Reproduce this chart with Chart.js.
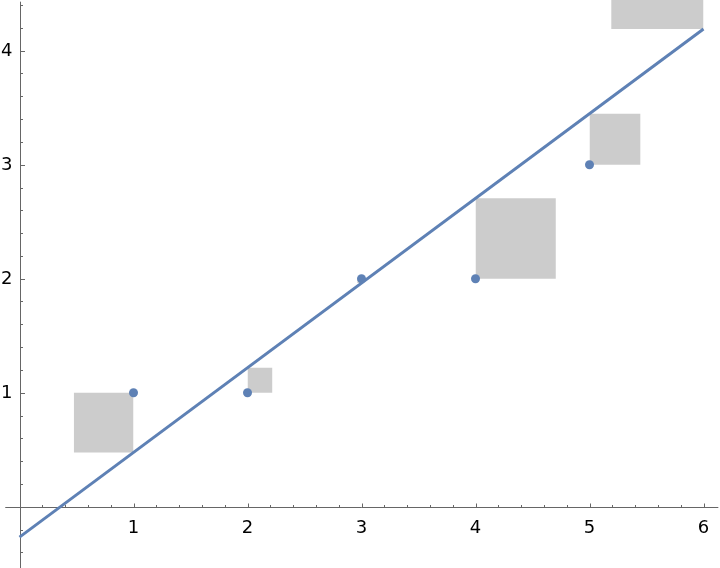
<!DOCTYPE html>
<html>
<head>
<meta charset="utf-8">
<script src="https://cdn.jsdelivr.net/npm/chart.js@4/dist/chart.umd.min.js"></script>
<style>
html,body{margin:0;padding:0;background:#fff;}
#wrap{width:720px;height:568px;}
</style>
</head>
<body>
<div id="wrap"><canvas id="c" width="720" height="568"></canvas></div>
<script>
// data points
const pointX = [1, 2, 3, 4, 5, 6];
const pointY = [1, 1, 2, 2, 3, 5];
// least-squares fit line endpoints
const fitX = [0, 6];
const fitY = [-0.267, 4.19];
// residual squares
const sqX0 = [0.476, 2, 2.962, 4, 5, 5.19];
const sqX1 = [1, 2.219, 3, 4.705, 5.448, 6];
const sqY0 = [0.476, 1, 1.962, 2, 3, 4.19];
const sqY1 = [1, 1.219, 2, 2.705, 3.448, 5];
// tick labels
const xTickLabels = ['1', '2', '3', '4', '5', '6'];
const xTickValues = [1, 2, 3, 4, 5, 6];
const yTickLabels = ['1', '2', '3', '4'];
const yTickValues = [1, 2, 3, 4];

const BLUE = '#5E81B5';
const GRAY = '#CCCCCC';
const AXIS = '#666666';

const datasets = [];
datasets.push({
  label: 'points',
  data: pointX.map((x, i) => ({x: x, y: pointY[i]})),
  showLine: false,
  pointRadius: 4.5,
  pointBackgroundColor: BLUE,
  pointBorderWidth: 0,
  order: 0
});
datasets.push({
  label: 'fit',
  data: fitX.map((x, i) => ({x: x, y: fitY[i]})),
  showLine: true,
  borderColor: BLUE,
  borderWidth: 3,
  pointRadius: 0,
  fill: false,
  order: 1
});
sqX0.forEach((x0, i) => {
  datasets.push({
    label: 'sq' + i,
    data: [{x: x0, y: sqY1[i]}, {x: sqX1[i], y: sqY1[i]}],
    showLine: true,
    borderWidth: 0,
    borderColor: 'rgba(0,0,0,0)',
    backgroundColor: GRAY,
    pointRadius: 0,
    fill: {value: sqY0[i]},
    order: 2
  });
});

const axesPlugin = {
  id: 'mathAxes',
  beforeDatasetsDraw(chart) {
    const ctx = chart.ctx;
    const xs = chart.scales.x, ys = chart.scales.y;
    const x0 = xs.getPixelForValue(0), y0 = ys.getPixelForValue(0);
    ctx.save();
    ctx.strokeStyle = AXIS;
    ctx.lineWidth = 1;
    // axis lines
    ctx.beginPath();
    ctx.moveTo(xs.getPixelForValue(-0.125), Math.round(y0) + 0.5);
    ctx.lineTo(xs.getPixelForValue(6.13), Math.round(y0) + 0.5);
    ctx.moveTo(Math.round(x0) + 0.5, ys.getPixelForValue(4.43));
    ctx.lineTo(Math.round(x0) + 0.5, ys.getPixelForValue(-0.54));
    ctx.stroke();
    // x ticks
    ctx.beginPath();
    for (let k = 1; k <= 30; k++) {
      const v = k / 5;
      const px = Math.round(xs.getPixelForValue(v)) + 0.5;
      const len = (k % 5 === 0) ? 4 : 2.5;
      ctx.moveTo(px, Math.round(y0) + 0.5);
      ctx.lineTo(px, Math.round(y0) + 0.5 - len);
    }
    // y ticks
    for (let k = -2; k <= 22; k++) {
      if (k === 0) continue;
      const v = k / 5;
      const py = Math.round(ys.getPixelForValue(v)) + 0.5;
      const len = (k % 5 === 0) ? 4.5 : 2.5;
      ctx.moveTo(Math.round(x0) + 0.5, py);
      ctx.lineTo(Math.round(x0) + 0.5 + len, py);
    }
    ctx.stroke();
    // labels
    ctx.fillStyle = '#000';
    ctx.font = '18px "DejaVu Sans"';
    ctx.textAlign = 'center';
    ctx.textBaseline = 'alphabetic';
    xTickValues.forEach((v, i) => {
      ctx.fillText(xTickLabels[i], xs.getPixelForValue(v), y0 + 26.5);
    });
    ctx.textAlign = 'right';
    ctx.textBaseline = 'middle';
    yTickValues.forEach((v, i) => {
      ctx.fillText(yTickLabels[i], x0 - 7, ys.getPixelForValue(v) + 1);
    });
    ctx.restore();
  }
};

new Chart(document.getElementById('c'), {
  type: 'scatter',
  data: {datasets: datasets},
  options: {
    responsive: false,
    devicePixelRatio: 1,
    animation: false,
    layout: {padding: 0, autoPadding: false},
    plugins: {legend: {display: false}, tooltip: {enabled: false}},
    scales: {
      x: {type: 'linear', display: false, min: -19.5 / 114, max: (720 - 19.5) / 114},
      y: {type: 'linear', display: false, min: -(568 - 506.7) / 114, max: 506.7 / 114}
    }
  },
  plugins: [axesPlugin]
});
</script>
</body>
</html>
